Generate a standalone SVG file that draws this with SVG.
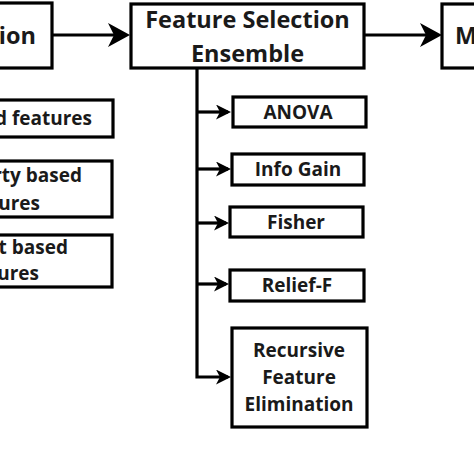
<svg xmlns="http://www.w3.org/2000/svg" width="474" height="474" viewBox="0 0 474 474">
<style>
.box{fill:#fff;stroke:#000;stroke-width:3.2}
.t{font-family:"Open Sans","Liberation Sans",sans-serif;font-weight:bold;fill:#1a1a1a}
.big{font-size:23.5px}
.sm{font-size:19px}
.c{stroke:#000;stroke-width:3.2;fill:none}
</style>
<defs>
<marker id="ab" markerUnits="userSpaceOnUse" viewBox="0 0 22 24" refX="18" refY="12" markerWidth="22" markerHeight="24" orient="auto">
<path d="M0,0 L22,12 L0,24 L6,12 z" fill="#000"/>
</marker>
<marker id="as" markerUnits="userSpaceOnUse" viewBox="0 0 15 15" refX="12" refY="7.5" markerWidth="15" markerHeight="15" orient="auto">
<path d="M0,0 L15,7.5 L0,15 L4,7.5 z" fill="#000"/>
</marker>
</defs>
<rect width="474" height="474" fill="#fff"/>
<g id="connectors">
<path class="c" d="M52,35 H126" marker-end="url(#ab)"/>
<path class="c" d="M364,35 H438" marker-end="url(#ab)"/>
<path class="c" d="M197,68 V377 H228" marker-end="url(#as)"/>
<path class="c" d="M197,112 H228" marker-end="url(#as)"/>
<path class="c" d="M197,169 H228" marker-end="url(#as)"/>
<path class="c" d="M197,223 H226" marker-end="url(#as)"/>
<path class="c" d="M197,284 H226" marker-end="url(#as)"/>
</g>
<g id="node-left-top">
<rect class="box" x="-10" y="3" width="62" height="65"/>
<text class="t big" x="36" y="44" text-anchor="end">ion</text>
</g>
<g id="node-fse">
<rect class="box" x="131" y="4" width="233" height="64"/>
<text class="t big" x="247.5" y="28" text-anchor="middle">Feature Selection</text>
<text class="t big" x="247.5" y="62" text-anchor="middle">Ensemble</text>
</g>
<g id="node-right">
<rect class="box" x="442" y="4" width="50" height="64"/>
<text class="t big" x="455" y="44">M</text>
</g>
<g id="node-f1">
<rect class="box" x="-10" y="100" width="123" height="37"/>
<text class="t sm" x="92" y="125" text-anchor="end">d features</text>
</g>
<g id="node-f2">
<rect class="box" x="-10" y="161" width="122" height="56"/>
<text class="t sm" x="82" y="182" text-anchor="end">rty based</text>
<text class="t sm" x="40" y="210" text-anchor="end">ures</text>
</g>
<g id="node-f3">
<rect class="box" x="-10" y="235" width="122" height="52"/>
<text class="t sm" x="68" y="254" text-anchor="end">t based</text>
<text class="t sm" x="39" y="280" text-anchor="end">ures</text>
</g>
<g id="node-anova">
<rect class="box" x="233" y="97" width="133" height="30"/>
<text class="t sm" x="298" y="119" text-anchor="middle">ANOVA</text>
</g>
<g id="node-infogain">
<rect class="box" x="232" y="154" width="132" height="31"/>
<text class="t sm" x="298" y="176" text-anchor="middle">Info Gain</text>
</g>
<g id="node-fisher">
<rect class="box" x="230" y="207" width="133" height="30"/>
<text class="t sm" x="296" y="229" text-anchor="middle">Fisher</text>
</g>
<g id="node-relief">
<rect class="box" x="230" y="270" width="134" height="31"/>
<text class="t sm" x="297" y="292" text-anchor="middle">Relief-F</text>
</g>
<g id="node-rfe">
<rect class="box" x="232" y="328" width="135" height="99"/>
<text class="t sm" x="299" y="357" text-anchor="middle">Recursive</text>
<text class="t sm" x="299" y="384" text-anchor="middle">Feature</text>
<text class="t sm" x="299" y="411" text-anchor="middle">Elimination</text>
</g>
</svg>
